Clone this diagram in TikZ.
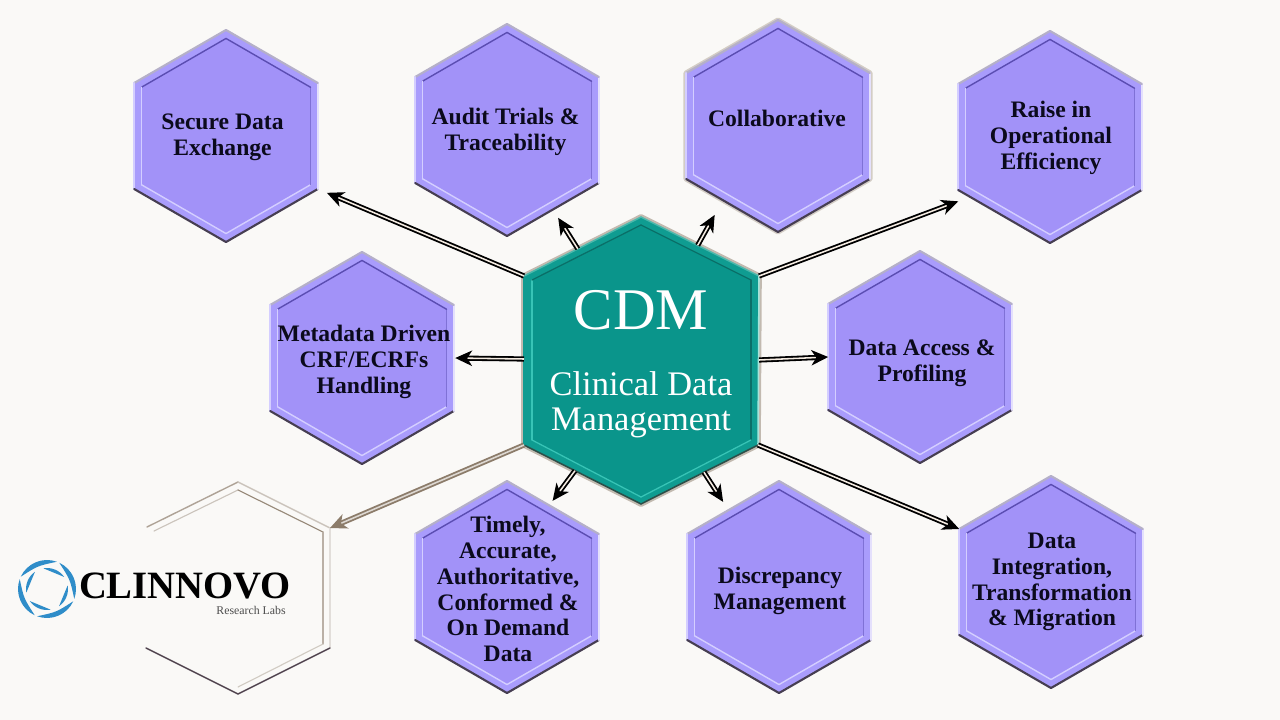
\documentclass[tikz,border=0pt]{standalone}
\usepackage{fontspec}
\setmainfont{Liberation Serif}
\usepackage{xcolor}
\usetikzlibrary{calc,shapes.geometric,arrows.meta}

\definecolor{pagebg}{HTML}{FAF9F7}
\definecolor{hexfill}{HTML}{A292F8}
\definecolor{hexband}{HTML}{A99CFC}
\definecolor{hexgrey}{HTML}{B5B0C8}
\definecolor{hexpale}{HTML}{E4E0FC}
\definecolor{hexdark}{HTML}{463E52}
\definecolor{hexdeep}{HTML}{5B4DB2}
\definecolor{hexlite}{HTML}{D4CEFF}
\definecolor{hexmid}{HTML}{7F71D6}
\definecolor{cdmfill}{HTML}{0A958B}
\definecolor{cdmband}{HTML}{0F9C91}
\definecolor{cdmedge}{HTML}{4DB8AC}
\definecolor{cdmpale}{HTML}{A5E4DA}
\definecolor{cdmdark}{HTML}{2E4F49}
\definecolor{cdmdeep}{HTML}{0A6F68}
\definecolor{cdmlite}{HTML}{38C4B6}
\definecolor{glow}{HTML}{8C7C6A}
\definecolor{inktext}{HTML}{0B0A1C}
\definecolor{swirl}{HTML}{2F8DC9}

\tikzset{
  hexbox/.style={regular polygon, regular polygon sides=6, shape border rotate=30, minimum size=5.3cm, inner sep=0pt, outer sep=0pt, fill=hexband},
  hextext/.style={align=center, text=inktext, font=\fontsize{16.8}{18.4}\selectfont\bfseries, inner sep=0pt},
  arrowline/.style={line width=1.3pt, double=white!85!brown, double distance=1.1pt, -{Stealth[length=12pt,width=11pt,inset=3.5pt]}},
  logoline/.style={line width=1pt, line cap=round}
}

\newcommand{\bevel}[1]{
  \fill[hexfill] ($(#1)!.92!(#1.corner 1)$) -- ($(#1)!.92!(#1.corner 2)$) -- ($(#1)!.92!(#1.corner 3)$) -- ($(#1)!.92!(#1.corner 4)$) -- ($(#1)!.92!(#1.corner 5)$) -- ($(#1)!.92!(#1.corner 6)$) -- cycle;
  \foreach \i/\j/\outcol/\incol in {1/2/hexgrey/hexdeep, 2/3/hexlite/hexlite, 3/4/hexdark/hexlite, 4/5/hexdark/hexlite, 5/6/hexpale/hexmid, 6/1/hexgrey/hexdeep}{
    \draw[line width=1.5pt, line cap=round, color=\outcol] (#1.corner \i) -- (#1.corner \j);
    \draw[line width=1pt, line cap=round, color=\incol] ($(#1)!.92!(#1.corner \i)$) -- ($(#1)!.92!(#1.corner \j)$);
  }
}

\begin{document}
\begin{tikzpicture}[x=0.025cm,y=-0.025cm]
\useasboundingbox[fill=pagebg] (0,0) rectangle (1280,720);

% outer hexagons
\draw[glow, line width=3.6pt, opacity=.35, line join=round] (778,20) -- (870,73) -- (870,179) -- (778,232) -- (686,179) -- (686,73) -- cycle;
\foreach \name/\x/\y in {secure/226/136, audit/507/130, collab/778/126, raise/1050/137, metadata/362/358, access/920/357, timely/507/587, discrepancy/779/587, integration/1051/582}{
  \node[hexbox] (\name) at (\x,\y) {};
  \bevel{\name}
}

\node[hextext] (secure-text) at (222.5,137) {Secure Data\\Exchange};
\node[hextext] (audit-text) at (505.5,132) {Audit Trials \&\\Traceability};
\node[hextext] (collab-text) at (777,118) {Collaborative};
\node[hextext] (raise-text) at (1051,138) {Raise in\\Operational\\Efficiency};
\node[hextext] (metadata-text) at (364,362) {Metadata Driven\\CRF/ECRFs\\Handling};
\node[hextext] (access-text) at (922,363) {Data Access \&\\Profiling};
\node[hextext] (timely-text) at (508,589) {Timely,\\Accurate,\\Authoritative,\\Conformed \&\\On Demand\\Data};
\node[hextext] (discrepancy-text) at (780,591) {Discrepancy\\Management};
\node[hextext] (integration-text) at (1052,582) {Data\\Integration,\\Transformation\\\& Migration};

% white hexagon behind the logo
\coordinate (logo-top) at (238,482);
\coordinate (logo-ne) at (330,528);
\coordinate (logo-se) at (330,648);
\coordinate (logo-bot) at (238,694);
\draw[logoline, color=glow!70] (147,527) -- (logo-top);
\draw[logoline, color=glow!45] (logo-top) -- (logo-ne);
\draw[logoline, color=glow!25] (logo-ne) -- (logo-se);
\draw[logoline, color=hexdark!90!brown] (logo-se) -- (logo-bot) -- (146,648);
\draw[logoline, line width=.8pt, color=glow!45] (154,531) -- (238,490);
\draw[logoline, line width=.8pt, color=glow!90] (238,490) -- (323,532);
\draw[logoline, line width=.8pt, color=glow!60] (323,532) -- (323,644);
\draw[logoline, line width=.8pt, color=glow!40] (323,644) -- (238,687);

% logo
\foreach \a in {20,110,200,290}{
  \fill[swirl] ($(47,589)+(\a:29)$) arc[start angle=\a, delta angle=-85, radius=29] .. controls ($(47,589)+(\a-42:25)$) .. ($(47,589)+(\a:29)$);
  \fill[swirl] ($(47,589)+(\a+35:21)$) arc[start angle=\a+35, delta angle=-65, radius=21] .. controls ($(47,589)+(\a+2:18.1)$) .. ($(47,589)+(\a+35:21)$);
}
\node[inner sep=0pt, font=\fontsize{27.5}{27.5}\selectfont\bfseries] (logo) at (185,586) {CLINNOVO};
\node[inner sep=0pt, text=black!70, font=\fontsize{8.4}{8.4}\selectfont] (logo-sub) at (251,610) {Research Labs};

% centre hexagon
\coordinate (cdm-t) at (641,217);
\coordinate (cdm-ul) at (524,276);
\coordinate (cdm-ll) at (524,445);
\coordinate (cdm-b) at (641,504);
\coordinate (cdm-lr) at (758,445);
\coordinate (cdm-ur) at (759,276);
\draw[glow, line width=4pt, opacity=.5, line join=round] (cdm-t) -- (cdm-ur) -- (cdm-lr) -- (cdm-b) -- (cdm-ll) -- (cdm-ul) -- cycle;
\fill[cdmband] (cdm-t) -- (cdm-ur) -- (cdm-lr) -- (cdm-b) -- (cdm-ll) -- (cdm-ul) -- cycle;
\coordinate (cdm-in-t) at (641,225);
\coordinate (cdm-in-ul) at (532,280);
\coordinate (cdm-in-ll) at (532,440);
\coordinate (cdm-in-b) at (641,497);
\coordinate (cdm-in-lr) at (751,440);
\coordinate (cdm-in-ur) at (751,280);
\fill[cdmfill] (cdm-in-t) -- (cdm-in-ur) -- (cdm-in-lr) -- (cdm-in-b) -- (cdm-in-ll) -- (cdm-in-ul) -- cycle;
\foreach \p/\q/\outcol/\incol in {t/ur/cdmedge/cdmdeep, ur/lr/cdmpale/cdmdeep, lr/b/cdmdark/cdmlite, b/ll/cdmdark/cdmlite, ll/ul/cdmband/cdmlite, ul/t/cdmedge/cdmdeep}{
  \draw[line width=1.1pt, line cap=round, color=\outcol] (cdm-\p) -- (cdm-\q);
  \draw[line width=.9pt, line cap=round, color=\incol] (cdm-in-\p) -- (cdm-in-\q);
}
\node[text=white, inner sep=0pt, font=\fontsize{42}{42}\selectfont] (cdm) at (641,310) {CDM};
\node[text=white, inner sep=0pt, align=center, font=\fontsize{24.5}{25}\selectfont] (cdm-sub) at (641,405) {Clinical Data\\Management};

% arrows out of the centre
\draw[arrowline, shorten >=7pt] (cdm-ul) -- (secure.corner 5);
\draw[arrowline, shorten >=7pt] ($(cdm-ul)!.46!(cdm-t)$) -- (audit.side 4);
\draw[arrowline, shorten >=12pt] ($(cdm-t)!.48!(cdm-ur)$) -- ($(collab.corner 3)!.4!(collab.corner 4)$);
\draw[arrowline, shorten >=9pt] (cdm-ur) -- ($(raise.corner 3)!.13!(raise.corner 4)$);
\draw[arrowline, shorten >=1pt] (524,359) -- (metadata.side 5);
\draw[arrowline] (759,360) -- (access.side 2);
\draw[arrowline, double=glow!30, color=glow] (cdm-ll) -- (logo-ne);
\draw[arrowline, shorten >=4pt] ($(cdm-ll)!.436!(cdm-b)$) -- ($(timely.corner 1)!.46!(timely.corner 6)$);
\draw[arrowline, shorten >=7pt] ($(cdm-b)!.538!(cdm-lr)$) -- ($(discrepancy.corner 1)!.55!(discrepancy.corner 2)$);
\draw[arrowline] (cdm-lr) -- (integration.corner 2);
\end{tikzpicture}
\end{document}
